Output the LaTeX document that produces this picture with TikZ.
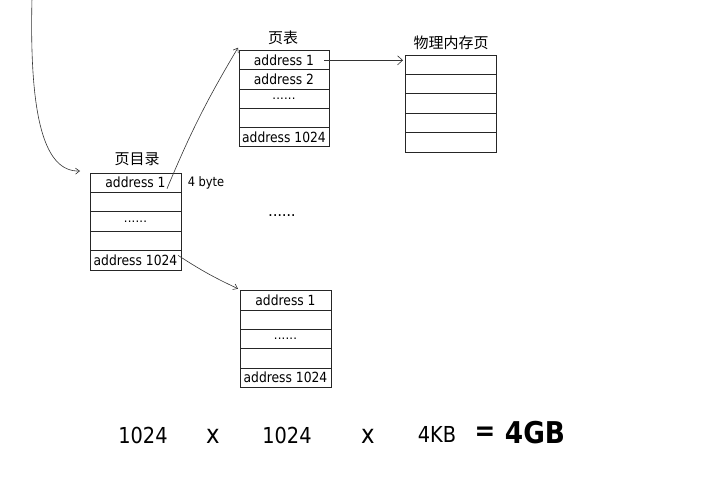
\documentclass[tikz,border=0pt]{standalone}
\usepackage{fontspec}
\setmainfont{DejaVu Sans}[FakeStretch=0.88]
\newfontfamily\cjk{Noto Sans CJK SC}
\usetikzlibrary{arrows.meta}
\begin{document}
\begin{tikzpicture}[x=1pt,y=-1pt,
  cell/.style={draw=black!85, line width=0.8pt, minimum width=91pt, minimum height=19.4pt,
    inner sep=0pt, outer sep=0pt, anchor=north west, font=\fontsize{14}{14}\selectfont},
  dotcell/.style={cell, font=\fontsize{8}{8}\selectfont\bfseries\addfontfeature{LetterSpace=15}},
  head/.style={font=\cjk\fontsize{15}{15}\selectfont, inner sep=0pt},
  big/.style={font=\fontsize{22}{22}\selectfont, inner sep=0pt},
  link/.style={draw=black!80, line width=0.6pt, -{Straight Barb[length=4pt,width=6pt]}}
]
\useasboundingbox (0,0) rectangle (720,497);

% page directory
\node[cell] (pd1) at (90,173) {address 1};
\node[cell] (pd2) at (90,192.4) {};
\node[dotcell] (pd3) at (90,211.8) {......};
\node[cell] (pd4) at (90,231.2) {};
\node[cell] (pd5) at (90,250.6) {address 1024};
\node[head] (pdh) at (137,159) {页目录};
\node[font=\fontsize{13}{13}\selectfont, inner sep=0pt] (byte) at (206,183) {4 byte};

% page table (top)
\node[cell, minimum width=90pt, minimum height=19.2pt] (pt1) at (239,50.7) {address 1};
\node[cell, minimum width=90pt, minimum height=19.2pt] (pt2) at (239,69.9) {address 2};
\node[dotcell, minimum width=90pt, minimum height=19.2pt] (pt3) at (239,89.1) {......};
\node[cell, minimum width=90pt, minimum height=19.2pt] (pt4) at (239,108.3) {};
\node[cell, minimum width=90pt, minimum height=19.2pt] (pt5) at (239,127.5) {address 1024};
\node[head] (pth) at (283,38) {页表};

% physical memory pages
\node[cell, minimum height=19.45pt] (pm1) at (405,55) {};
\node[cell, minimum height=19.45pt] (pm2) at (405,74.45) {};
\node[cell, minimum height=19.45pt] (pm3) at (405,93.9) {};
\node[cell, minimum height=19.45pt] (pm4) at (405,113.35) {};
\node[cell, minimum height=19.45pt] (pm5) at (405,132.8) {};
\node[head] (pmh) at (451,43) {物理内存页};

% page table (bottom)
\node[cell, minimum height=19.3pt] (pb1) at (240,290.7) {address 1};
\node[cell, minimum height=19.3pt] (pb2) at (240,310) {};
\node[dotcell, minimum height=19.3pt] (pb3) at (240,329.3) {......};
\node[cell, minimum height=19.3pt] (pb4) at (240,348.6) {};
\node[cell, minimum height=19.3pt] (pb5) at (240,367.9) {address 1024};

% middle dots
\node[font=\fontsize{10}{10}\selectfont\bfseries\addfontfeature{LetterSpace=12}, inner sep=0pt] (mid) at (282,216) {......};

% connectors
\coordinate (top) at (32,-2);
\draw[link] (top) .. controls (29,120) and (45,172) .. ([xshift=-10pt,yshift=2pt]pd1.north west);
\draw[link] ([xshift=-14pt,yshift=-6pt]pd1.east) to[bend left=4] ([xshift=-1pt,yshift=3pt]pt1.north west);
\draw[draw=black!80, line width=0.6pt, -{Straight Barb[length=5pt,width=9pt]}]
  ([xshift=-5pt]pt1.east) -- ([xshift=-2pt]pt1.east -| pm1.west);
\draw[link] ([xshift=-3pt,yshift=5pt]pd5.east) to[bend right=4] ([xshift=-2pt,yshift=2pt]pb1.north west);

% bottom formula
\node[big] (n1) at (143,435) {1024};
\node[font=\fontsize{26}{26}\selectfont, inner sep=0pt] (x1) at (213,436) {x};
\node[big] (n2) at (287,435) {1024};
\node[font=\fontsize{26}{26}\selectfont, inner sep=0pt] (x2) at (368,436) {x};
\node[big] (kb) at (437,434) {4KB};
\node[font=\fontsize{28}{28}\selectfont\bfseries, inner sep=0pt] (eq) at (485,434) {=};
\node[font=\fontsize{30}{30}\selectfont\bfseries, inner sep=0pt] (gb) at (535,433) {4GB};
\end{tikzpicture}
\end{document}
